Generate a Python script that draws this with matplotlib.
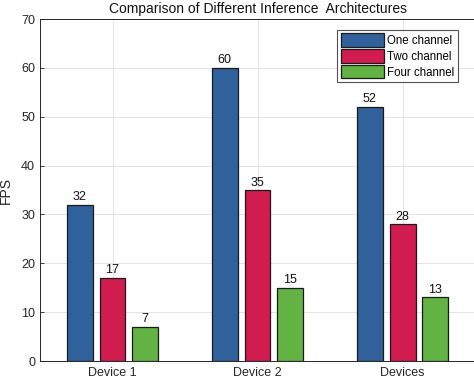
import numpy as np
import matplotlib
matplotlib.use("Agg")
import matplotlib.pyplot as plt

categories = ["Device 1", "Device 2", "Devices"]
series_names = ["One channel", "Two channel", "Four channel"]
one_channel = [32, 60, 52]
two_channel = [17, 35, 28]
four_channel = [7, 15, 13]
colors = ["#30619A", "#D01C4E", "#63B244"]

plt.rcParams["font.family"] = ["Liberation Sans", "DejaVu Sans"]

fig = plt.figure(figsize=(4.74, 3.80), dpi=100)
ax = fig.add_axes([0.0844, 0.05, 0.918, 0.90])

x = np.arange(1, len(categories) + 1)
width = 0.178
offsets = [-0.226, 0.0, 0.226]
for vals, name, col, off in zip([one_channel, two_channel, four_channel], series_names, colors, offsets):
    bars = ax.bar(x + off, vals, width, color=col, edgecolor="#1a1a1a", linewidth=0.9, label=name, zorder=3)
    for b, v in zip(bars, vals):
        ax.text(b.get_x() + b.get_width() / 2, v + 0.3, str(v), ha="center", va="bottom",
                fontsize=9, color="#111111", zorder=4)

ax.set_xlim(0.5, 3.5)
ax.set_ylim(0, 70)
ax.set_xticks(x)
ax.set_xticklabels(categories)
ax.set_yticks(range(0, 71, 10))
ax.tick_params(direction="in", length=3, labelsize=9, colors="#262626", width=0.6)
ax.tick_params(axis="x", pad=4)
ax.grid(True, color="#e3e3e3", linewidth=0.7, zorder=0)
for s in ax.spines.values():
    s.set_color("#262626")
    s.set_linewidth(0.7)

ax.set_ylabel("FPS", fontsize=10, color="#262626", labelpad=6)
ax.set_title("Comparison of Different Inference  Architectures", fontsize=10, color="#111111", pad=4)

leg = ax.legend(loc="upper right", bbox_to_anchor=(0.968, 0.978), fontsize=8.3, frameon=True, fancybox=False,
                edgecolor="#262626", handlelength=3.7, handleheight=1.4, borderpad=0.3,
                labelspacing=0.2, handletextpad=0.3, borderaxespad=0.3)
leg.get_frame().set_linewidth(0.8)

fig.savefig("out.png", dpi=100)
